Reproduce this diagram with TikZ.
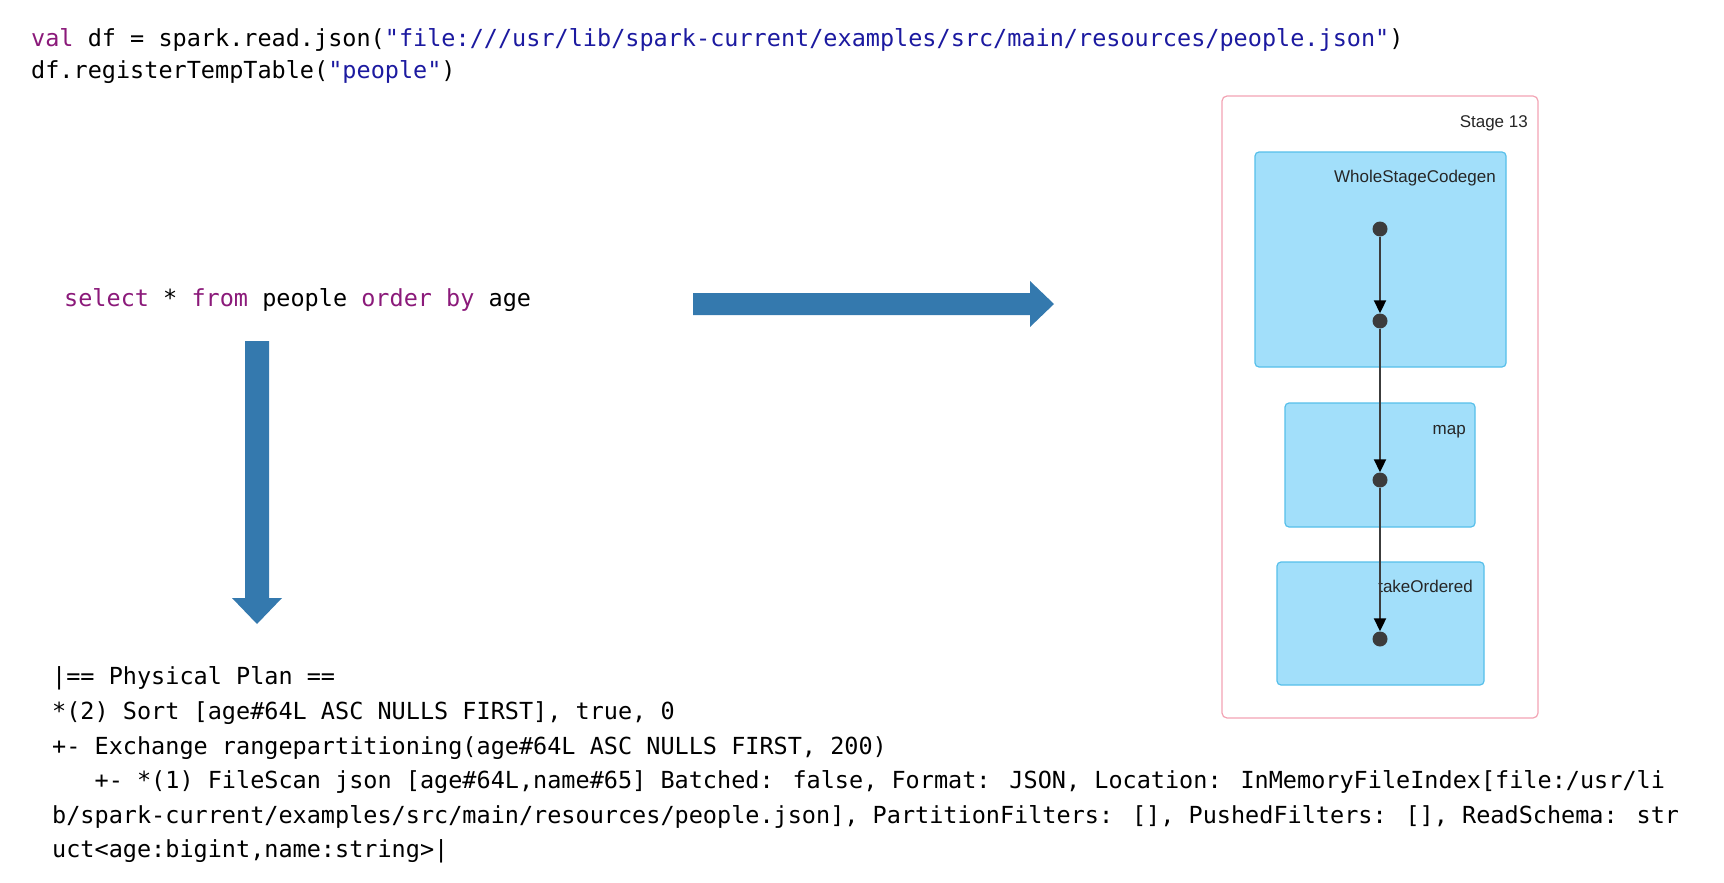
\documentclass[tikz,border=0pt]{standalone}
\usepackage{fontspec}
\setmainfont{Liberation Sans}
\newfontfamily\codefont{DejaVu Sans Mono}
\usetikzlibrary{arrows.meta}
\definecolor{kw}{HTML}{8B1A7A}
\definecolor{str}{HTML}{1C1AA0}
\definecolor{barrow}{HTML}{3479AE}
\definecolor{boxfill}{HTML}{A2DFFA}
\definecolor{boxline}{HTML}{56BFEA}
\definecolor{stagepink}{HTML}{F2A3B3}
\definecolor{dotc}{HTML}{3C3C3C}
\begin{document}
\begin{tikzpicture}[x=1pt,y=-1pt,
  code/.style={anchor=base west,inner sep=0pt,font=\codefont\fontsize{23.5}{28}\selectfont},
  lbl/.style={anchor=base east,inner sep=0pt,font=\fontsize{17}{20}\selectfont,text=black!85},
  op/.style={draw=boxline,fill=boxfill,line width=1.2pt,rounded corners=4pt},
  dot/.style={circle,fill=dotc,minimum size=15pt,inner sep=0pt},
  edge/.style={draw=dotc,line width=2pt,-{Triangle[length=13pt,width=12pt,color=black]},shorten >=0pt},
  bigarrow/.style={fill=barrow,draw=none}]
\useasboundingbox (0,0) rectangle (1724,883);
% code lines
\node[code] (l1) at (31,47) {\textcolor{kw}{val} df = spark.read.json(\textcolor{str}{"file:///usr/lib/spark-current/examples/src/main/resources/people.json"})};
\node[code] (l2) at (31,78) {df.registerTempTable(\textcolor{str}{"people"})};
\node[code] (sql) at (64,306) {\textcolor{kw}{select} * \textcolor{kw}{from} people \textcolor{kw}{order} \textcolor{kw}{by} age};
% arrows
\fill[bigarrow] (693,293) -- (1030,293) -- (1030,281) -- (1054,304) -- (1030,327) -- (1030,315) -- (693,315) -- cycle;
\fill[bigarrow] (245,341) -- (269,341) -- (269,598) -- (282,598) -- (257,624) -- (232,598) -- (245,598) -- cycle;
% plan
\node[code] (p1) at (52,684) {|== Physical Plan ==};
\node[code] (p2) at (52,719) {*(2) Sort [age\#64L ASC NULLS FIRST], true, 0};
\node[code] (p3) at (52,754) {+- Exchange rangepartitioning(age\#64L ASC NULLS FIRST, 200)};
\node[code] (p4) at (52,788) {\ \ \ +- *(1) FileScan json [age\#64L,name\#65] Batched: false, Format: JSON, Location: InMemoryFileIndex[file:/usr/li};
\node[code] (p5) at (52,823) {b/spark-current/examples/src/main/resources/people.json], PartitionFilters: [], PushedFilters: [], ReadSchema: str};
\node[code] (p6) at (52,857) {uct<age:bigint,name:string>|};
% stage
\draw[stagepink,line width=1.2pt,rounded corners=5pt] (1222,96) rectangle (1538,718);
\node[lbl] (st) at (1528,127) {Stage 13};
\draw[op] (1255,152) rectangle (1506,367);
\node[lbl] (wl) at (1496,182) {WholeStageCodegen};
\draw[op] (1285,403) rectangle (1475,527);
\node[lbl] (ml) at (1466,434) {map};
\draw[op] (1277,562) rectangle (1484,685);
\node[lbl] (tl) at (1473,592) {takeOrdered};
\node[dot] (d1) at (1380,229) {};
\node[dot] (d2) at (1380,321) {};
\node[dot] (d3) at (1380,480) {};
\node[dot] (d4) at (1380,639) {};
\draw[edge] (d1) -- (d2);
\draw[edge] (d2) -- (d3);
\draw[edge] (d3) -- (d4);
\end{tikzpicture}
\end{document}
